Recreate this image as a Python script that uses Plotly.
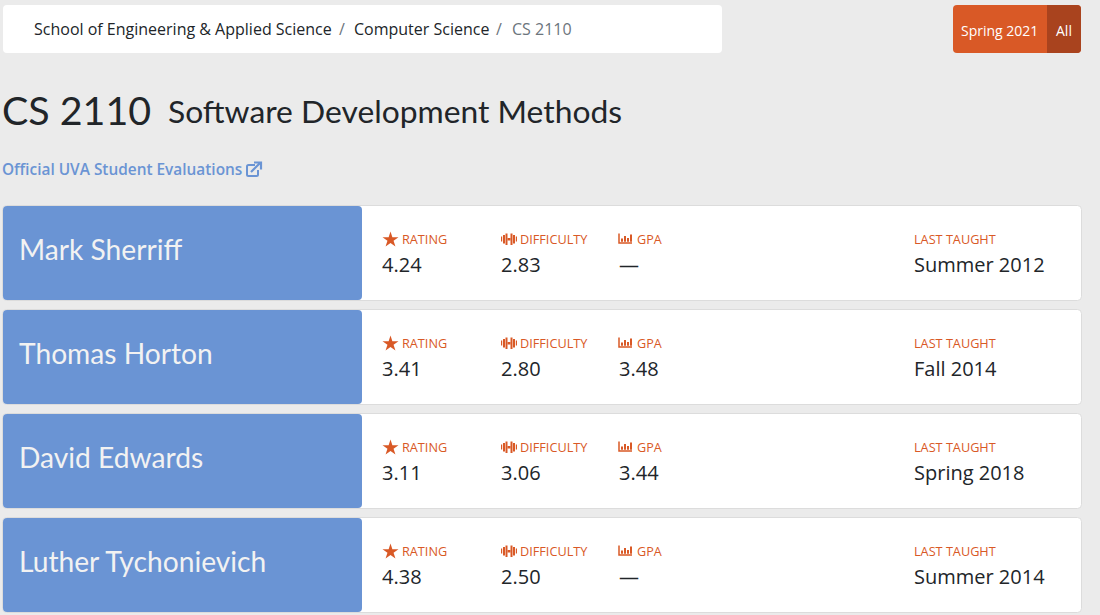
import plotly.graph_objects as go

instructors = ["Mark Sherriff", "Thomas Horton", "David Edwards", "Luther Tychonievich"]
ratings = ["4.24", "3.41", "3.11", "4.38"]
difficulties = ["2.83", "2.80", "3.06", "2.50"]
gpas = ["—", "3.48", "3.44", "—"]
last_taught = ["Summer 2012", "Fall 2014", "Spring 2018", "Summer 2014"]
crumbs = ["School of Engineering & Applied Science", "/", "Computer Science", "/", "CS 2110"]
crumb_x = [34, 338.5, 354, 496, 511.5]
crumb_col = ["#212529", "#6c757d", "#212529", "#6c757d", "#6c757d"]

BG, WHITE, BLUE, ORANGE, DARK = "#ebebeb", "#ffffff", "#6a94d4", "#d95926", "#a9431e"
INK = "#212529"
shapes, ann = [], []

def rr(x0, y0, x1, y1, fill, r=(4, 4, 4, 4), line=None):
    tl, tr, br, bl = r
    p = (f"M{x0+tl},{y0} L{x1-tr},{y0} Q{x1},{y0} {x1},{y0+tr} L{x1},{y1-br} Q{x1},{y1} {x1-br},{y1} "
         f"L{x0+bl},{y1} Q{x0},{y1} {x0},{y1-bl} L{x0},{y0+tl} Q{x0},{y0} {x0+tl},{y0} Z")
    shapes.append(dict(type="path", path=p, fillcolor=fill, layer="below",
                       line=dict(color=line or fill, width=1 if line else 0)))

def txt(x, y, s, size, color=INK, fam="Open Sans", weight=400, anchor="left"):
    ann.append(dict(x=x, y=y, text=s, showarrow=False, xanchor=anchor, yanchor="middle", xref="x", yref="y",
                    borderpad=0, borderwidth=0, font=dict(family=fam, size=size, color=color, weight=weight)))

def stroke(path, color, width=1.5, fill=None):
    shapes.append(dict(type="path", path=path, line=dict(color=color, width=width),
                       fillcolor=fill or "rgba(0,0,0,0)", layer="above"))

rr(3, 5, 722, 53, WHITE)
for x, s, c in zip(crumb_x, crumbs, crumb_col):
    txt(x, 29, s, 16, c)

rr(953, 5, 1081, 53, ORANGE)
rr(1047, 5, 1081, 53, DARK, r=(0, 4, 4, 0))
txt(961, 30, "Spring 2021", 14, WHITE)
txt(1055.5, 30, "All", 14, WHITE)

txt(2, 109, "CS 2110", 39.4, INK, "Lato")
txt(167.5, 111, "Software Development Methods", 31.8, INK, "Lato")
txt(2, 169, "Official UVA Student Evaluations", 15.4, BLUE, "Open Sans", 600)
stroke("M255,165 H248.5 Q247,165 247,166.5 V174.5 Q247,176 248.5,176 H256.5 Q258,176 258,174.5 V170", BLUE, 2)
stroke("M251,172 L260,163 M254,162.5 H261 V169.5", BLUE, 2.2)

star_x, star_y = [], []
for i, name in enumerate(instructors):
    t = 104 * i
    rr(2.5, 205.5 + t, 1081.5, 300.5 + t, WHITE, line="#dcdcdc")
    rr(3, 206 + t, 362, 300 + t, BLUE)
    txt(19, 249 + t, name, 28.2, "#f2f2f2", "Lato")
    star_x.append(390.5); star_y.append(239.8 + t)
    txt(402, 239 + t, "RATING", 12.7, ORANGE)
    txt(520, 239 + t, "DIFFICULTY", 12.7, ORANGE)
    txt(637, 239 + t, "GPA", 12.6, ORANGE)
    txt(914, 239 + t, "LAST TAUGHT", 12.7, ORANGE)
    txt(382, 264 + t, ratings[i], 20, INK, "Open Sans")
    txt(501, 264 + t, difficulties[i], 20, INK, "Open Sans")
    txt(618.5, 264 + t, gpas[i], 20, INK, "Open Sans")
    txt(914, 264 + t, last_taught[i], 20, INK, "Open Sans")
    # dumbbell icon
    for x0, x1, y0, y1 in [(501, 502.2, 236.5, 241.5), (503, 505, 235, 243.5), (505.5, 507.5, 233.5, 245),
                           (507.5, 510.5, 238, 240.5), (510.5, 512.5, 233.5, 245), (513, 515, 235, 243.5),
                           (515.8, 517, 236.5, 241.5)]:
        shapes.append(dict(type="rect", x0=x0, x1=x1, y0=y0 + t, y1=y1 + t, fillcolor=ORANGE, line=dict(width=0), layer="above"))
    # bar-chart icon
    stroke(f"M619,{233.5+t} V{243+t} H632", ORANGE, 1.5)
    for x0, y0 in [(621, 238.5), (624, 236), (627, 238), (630, 234.5)]:
        shapes.append(dict(type="rect", x0=x0, x1=x0 + 2, y0=y0 + t, y1=241.8 + t, fillcolor=ORANGE, line=dict(width=0), layer="above"))

fig = go.Figure(go.Scatter(x=star_x, y=star_y, mode="markers", hoverinfo="skip",
                           marker=dict(symbol="star", size=12, color=ORANGE, line=dict(width=0))))
fig.update_layout(width=1100, height=615, margin=dict(l=0, r=0, t=0, b=0), paper_bgcolor=BG, plot_bgcolor=BG,
                  showlegend=False, shapes=shapes, annotations=ann,
                  xaxis=dict(range=[0, 1100], visible=False, fixedrange=True),
                  yaxis=dict(range=[615, 0], visible=False, fixedrange=True))
fig.write_html("out.html", config=dict(displayModeBar=False),
               post_script="document.body.style.margin='0';document.body.style.overflow='hidden';")
